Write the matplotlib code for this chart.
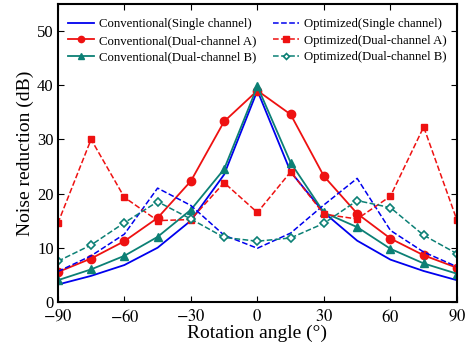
import matplotlib
matplotlib.use("Agg")
import matplotlib.pyplot as plt

plt.rcParams['font.family'] = ['Liberation Serif', 'DejaVu Serif']
plt.rcParams['mathtext.fontset'] = 'stix'

angles = [-90, -75, -60, -45, -30, -15, 0, 15, 30, 45, 60, 75, 90]

conv_single = [3.2, 4.8, 6.8, 10.0, 15.0, 23.5, 39.0, 24.0, 16.5, 11.3, 7.8, 5.7, 4.0]
conv_dual_a = [5.5, 8.0, 11.2, 15.5, 22.3, 33.3, 39.0, 34.6, 23.2, 16.3, 11.7, 8.6, 6.3]
conv_dual_b = [4.0, 6.0, 8.5, 12.0, 17.0, 24.5, 39.8, 25.7, 16.5, 13.8, 9.8, 7.1, 5.2]
opt_single = [5.6, 8.5, 12.5, 21.0, 17.8, 12.3, 9.9, 12.7, 17.9, 22.8, 13.2, 9.2, 6.5]
opt_dual_a = [14.5, 30.0, 19.3, 15.0, 15.2, 22.0, 16.5, 24.0, 16.2, 15.3, 19.5, 32.3, 15.1]
opt_dual_b = [7.5, 10.5, 14.6, 18.5, 15.3, 11.9, 11.2, 11.8, 14.5, 18.7, 17.4, 12.3, 8.9]

blue = '#0000ee'
red = '#ee1111'
teal = '#0c8075'

fig = plt.figure(figsize=(4.74, 3.56), dpi=100)
ax = fig.add_axes([0.122, 0.152, 0.842, 0.837])

ax.plot(angles, conv_single, color=blue, lw=1.3, label='Conventional(Single channel)')
ax.plot(angles, conv_dual_a, color=red, lw=1.3, marker='o', ms=6,
        label='Conventional(Dual-channel A)')
ax.plot(angles, conv_dual_b, color=teal, lw=1.3, marker='^', ms=6,
        label='Conventional(Dual-channel B)')
ax.plot(angles, opt_single, color=blue, lw=1.1, ls='--', label='Optimized(Single channel)')
ax.plot(angles, opt_dual_a, color=red, lw=1.1, ls='--', marker='s', ms=5,
        label='Optimized(Dual-channel A)')
ax.plot(angles, opt_dual_b, color=teal, lw=1.1, ls='--', marker='D', ms=4,
        mfc='white', mew=1.2, label='Optimized(Dual-channel B)')

ax.set_xlim(-90, 90)
ax.set_ylim(0, 55)
ax.set_xticks([-90, -60, -30, 0, 30, 60, 90])
ax.set_xticklabels(['$-90$', '$-60$', '$-30$', '$0$', '$30$', '$60$', '$90$'])
ax.set_yticks([0, 10, 20, 30, 40, 50])
ax.tick_params(direction='in', top=True, right=True, labelsize=12, length=4)
ax.tick_params(axis='x', pad=5)
ax.tick_params(axis='y', pad=3)
for s in ax.spines.values():
    s.set_linewidth(1.5)

ax.set_xlabel('Rotation angle (°)', fontsize=14, labelpad=-1)
ax.set_ylabel('Noise reduction (dB)', fontsize=14, labelpad=2)

ax.legend(ncol=2, loc='upper center', frameon=False, fontsize=9.2,
          handlelength=2.0, columnspacing=1.3, handletextpad=0.4,
          labelspacing=0.35, markerscale=0.75, bbox_to_anchor=(0.5, 0.99))

fig.savefig('out.png', dpi=100)
